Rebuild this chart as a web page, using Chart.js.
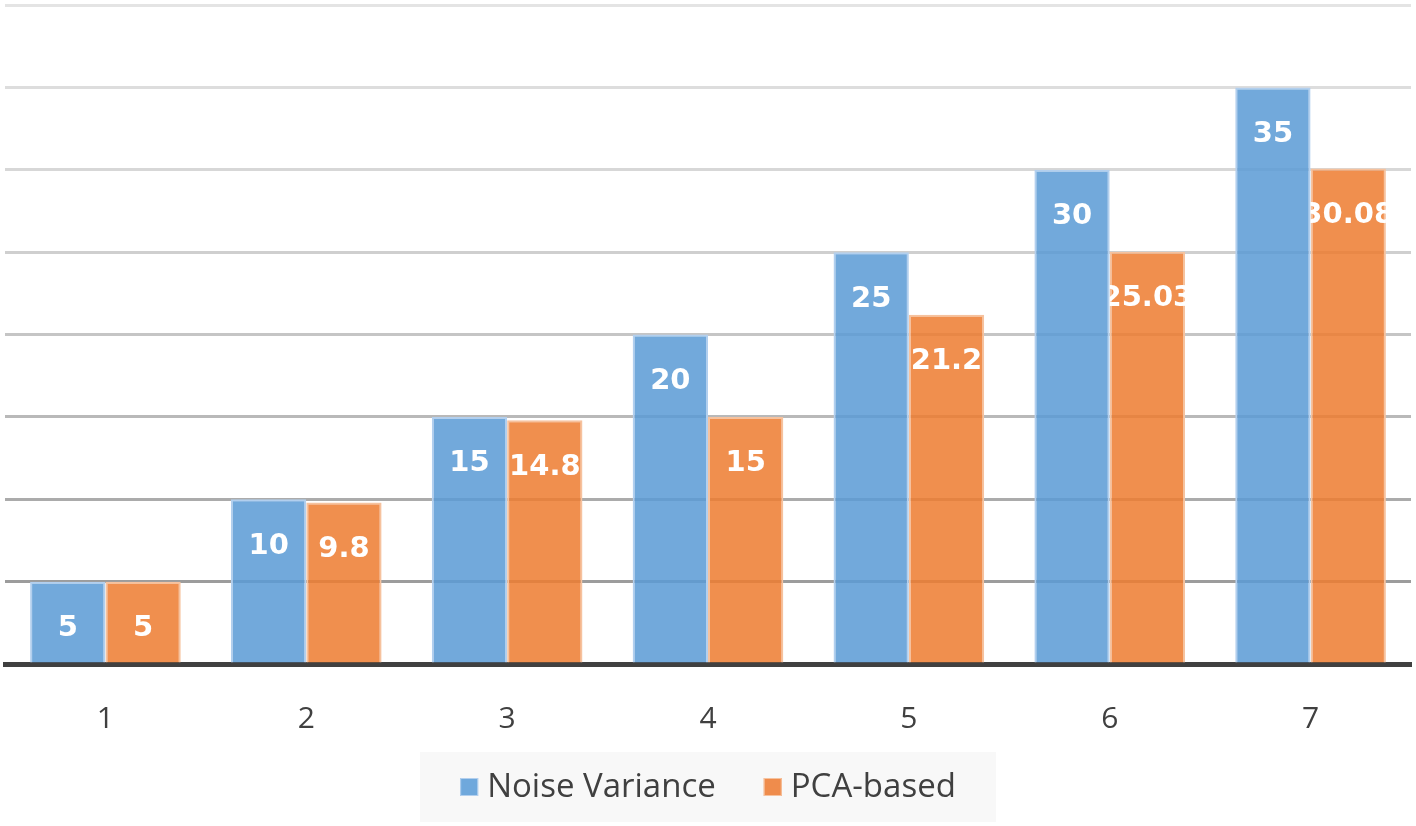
<!DOCTYPE html>
<html>
<head>
<meta charset="utf-8">
<script src="https://cdn.jsdelivr.net/npm/chart.js@4.4.1/dist/chart.umd.min.js"></script>
<style>
  html, body { margin: 0; padding: 0; background: #fff; }
  #wrap { width: 1416px; height: 826px; }
</style>
</head>
<body>
<div id="wrap"><canvas id="barChart" width="1416" height="826"></canvas></div>
<script>
const categories = ["1", "2", "3", "4", "5", "6", "7"];
const noiseVariance = [5, 10, 15, 20, 25, 30, 35];
const pcaBased = [5, 9.8, 14.8, 15, 21.2, 25.03, 30.08];
const seriesNames = ["Noise Variance", "PCA-based"];
const yTicks = [0, 5, 10, 15, 20, 25, 30, 35, 40];

// grid gets darker toward the bottom, like the original
const gridShades = ["rgba(0,0,0,0)", "#9c9c9c", "#ababab", "#b9b9b9", "#c5c5c5", "#cfcfcf", "#d7d7d7", "#dddddd", "#e4e4e4"];

const valueLabels = {
  id: "valueLabels",
  afterDatasetsDraw(chart) {
    const ctx = chart.ctx;
    chart.data.datasets.forEach((ds, i) => {
      chart.getDatasetMeta(i).data.forEach((bar, j) => {
        const half = bar.width / 2;
        ctx.save();
        ctx.beginPath();
        ctx.rect(bar.x - half, bar.y, bar.width, bar.base - bar.y);
        ctx.clip();
        ctx.fillStyle = "#ffffff";
        ctx.font = "bold 29px 'DejaVu Sans'";
        ctx.textAlign = "center";
        ctx.textBaseline = "middle";
        ctx.fillText(String(ds.data[j]), bar.x, bar.y + 47);
        ctx.restore();
      });
    });
  }
};

const bottomLegend = {
  id: "bottomLegend",
  afterDraw(chart) {
    const ctx = chart.ctx;
    const cx = chart.width / 2;
    const boxW = 576, boxH = 70, top = 752;
    ctx.save();
    ctx.fillStyle = "#f8f8f8";
    ctx.fillRect(cx - boxW / 2, top, boxW, boxH);
    ctx.font = "33px 'Open Sans'";
    const sq = 18, gap = 9, itemGap = 48;
    const widths = chart.data.datasets.map(d => ctx.measureText(d.label).width);
    let total = 0;
    widths.forEach((w, i) => { total += sq + gap + w + (i ? itemGap : 0); });
    let x = cx - total / 2;
    const yMid = top + boxH / 2;
    chart.data.datasets.forEach((d, i) => {
      ctx.fillStyle = d.legendColor;
      ctx.fillRect(x, yMid - sq / 2, sq, sq);
      ctx.strokeStyle = d.borderColor;
      ctx.lineWidth = 1;
      ctx.strokeRect(x + 0.5, yMid - sq / 2 + 0.5, sq - 1, sq - 1);
      ctx.fillStyle = "#404040";
      ctx.textBaseline = "middle";
      ctx.textAlign = "left";
      ctx.fillText(d.label, x + sq + gap, yMid + 1);
      x += sq + gap + widths[i] + itemGap;
    });
    ctx.restore();
  }
};

new Chart(document.getElementById("barChart").getContext("2d"), {
  type: "bar",
  data: {
    labels: categories,
    datasets: [
      {
        label: seriesNames[0],
        data: noiseVariance,
        backgroundColor: "rgba(91,155,213,0.86)",
        borderColor: "#b2cfee",
        legendColor: "#6fa8dc",
        borderWidth: 2
      },
      {
        label: seriesNames[1],
        data: pcaBased,
        backgroundColor: "rgba(237,125,49,0.86)",
        borderColor: "#f6c29e",
        legendColor: "#ef8c4c",
        borderWidth: 2
      }
    ]
  },
  options: {
    responsive: false,
    animation: false,
    devicePixelRatio: 1,
    layout: { padding: { left: 5, right: 5, top: 5, bottom: 80 } },
    datasets: { bar: { categoryPercentage: 0.75, barPercentage: 1 } },
    plugins: {
      legend: { display: false },
      tooltip: { enabled: false }
    },
    scales: {
      x: {
        z: 1,
        grid: { display: false, drawTicks: false },
        border: { display: true, color: "#404040", width: 5 },
        ticks: { color: "#404040", padding: 37, font: { family: "'Open Sans'", size: 30 } },
        afterFit: s => { s.height = 82; }
      },
      y: {
        min: 0,
        max: 40,
        afterBuildTicks: s => { s.ticks = yTicks.map(v => ({ value: v })); },
        ticks: { display: false },
        border: { display: false },
        grid: {
          drawTicks: false,
          lineWidth: 3,
          color: c => gridShades[yTicks.indexOf(c.tick.value)] || "#dddddd"
        },
        afterFit: s => { s.width = 0; }
      }
    }
  },
  plugins: [valueLabels, bottomLegend]
});
</script>
</body>
</html>
